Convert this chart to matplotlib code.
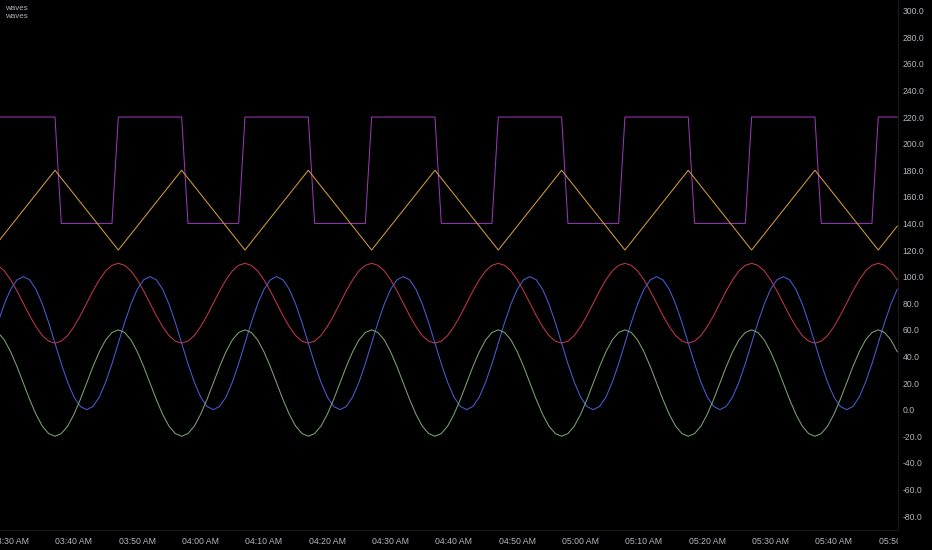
import matplotlib
matplotlib.use('Agg')
import matplotlib.pyplot as plt
import matplotlib.dates as mdates
import pandas as pd

# one bar per minute, 03:27 -> 05:50
times = pd.date_range('2024-01-01 03:27', periods=144, freq='min')

square = [
    220, 220, 220, 220, 220, 220, 220, 220, 220, 220, 220, 140, 140, 140, 140, 140, 140, 140, 140, 140,
    220, 220, 220, 220, 220, 220, 220, 220, 220, 220, 220, 140, 140, 140, 140, 140, 140, 140, 140, 140,
    220, 220, 220, 220, 220, 220, 220, 220, 220, 220, 220, 140, 140, 140, 140, 140, 140, 140, 140, 140,
    220, 220, 220, 220, 220, 220, 220, 220, 220, 220, 220, 140, 140, 140, 140, 140, 140, 140, 140, 140,
    220, 220, 220, 220, 220, 220, 220, 220, 220, 220, 220, 140, 140, 140, 140, 140, 140, 140, 140, 140,
    220, 220, 220, 220, 220, 220, 220, 220, 220, 220, 220, 140, 140, 140, 140, 140, 140, 140, 140, 140,
    220, 220, 220, 220, 220, 220, 220, 220, 220, 220, 220, 140, 140, 140, 140, 140, 140, 140, 140, 140,
    220, 220, 220, 220,
]

triangle = [
    120, 126, 132, 138, 144, 150, 156, 162, 168, 174, 180, 174, 168, 162, 156, 150, 144, 138, 132, 126,
    120, 126, 132, 138, 144, 150, 156, 162, 168, 174, 180, 174, 168, 162, 156, 150, 144, 138, 132, 126,
    120, 126, 132, 138, 144, 150, 156, 162, 168, 174, 180, 174, 168, 162, 156, 150, 144, 138, 132, 126,
    120, 126, 132, 138, 144, 150, 156, 162, 168, 174, 180, 174, 168, 162, 156, 150, 144, 138, 132, 126,
    120, 126, 132, 138, 144, 150, 156, 162, 168, 174, 180, 174, 168, 162, 156, 150, 144, 138, 132, 126,
    120, 126, 132, 138, 144, 150, 156, 162, 168, 174, 180, 174, 168, 162, 156, 150, 144, 138, 132, 126,
    120, 126, 132, 138, 144, 150, 156, 162, 168, 174, 180, 174, 168, 162, 156, 150, 144, 138, 132, 126,
    120, 126, 132, 138,
]

red = [
    110, 108.5, 104.3, 97.6, 89.3, 80, 70.7, 62.4, 55.7, 51.5, 50, 51.5, 55.7, 62.4, 70.7, 80, 89.3, 97.6, 104.3, 108.5,
    110, 108.5, 104.3, 97.6, 89.3, 80, 70.7, 62.4, 55.7, 51.5, 50, 51.5, 55.7, 62.4, 70.7, 80, 89.3, 97.6, 104.3, 108.5,
    110, 108.5, 104.3, 97.6, 89.3, 80, 70.7, 62.4, 55.7, 51.5, 50, 51.5, 55.7, 62.4, 70.7, 80, 89.3, 97.6, 104.3, 108.5,
    110, 108.5, 104.3, 97.6, 89.3, 80, 70.7, 62.4, 55.7, 51.5, 50, 51.5, 55.7, 62.4, 70.7, 80, 89.3, 97.6, 104.3, 108.5,
    110, 108.5, 104.3, 97.6, 89.3, 80, 70.7, 62.4, 55.7, 51.5, 50, 51.5, 55.7, 62.4, 70.7, 80, 89.3, 97.6, 104.3, 108.5,
    110, 108.5, 104.3, 97.6, 89.3, 80, 70.7, 62.4, 55.7, 51.5, 50, 51.5, 55.7, 62.4, 70.7, 80, 89.3, 97.6, 104.3, 108.5,
    110, 108.5, 104.3, 97.6, 89.3, 80, 70.7, 62.4, 55.7, 51.5, 50, 51.5, 55.7, 62.4, 70.7, 80, 89.3, 97.6, 104.3, 108.5,
    110, 108.5, 104.3, 97.6,
]

blue = [
    50, 65.5, 79.4, 90.5, 97.6, 100, 97.6, 90.5, 79.4, 65.5, 50, 34.5, 20.6, 9.5, 2.4, 0, 2.4, 9.5, 20.6, 34.5,
    50, 65.5, 79.4, 90.5, 97.6, 100, 97.6, 90.5, 79.4, 65.5, 50, 34.5, 20.6, 9.5, 2.4, 0, 2.4, 9.5, 20.6, 34.5,
    50, 65.5, 79.4, 90.5, 97.6, 100, 97.6, 90.5, 79.4, 65.5, 50, 34.5, 20.6, 9.5, 2.4, 0, 2.4, 9.5, 20.6, 34.5,
    50, 65.5, 79.4, 90.5, 97.6, 100, 97.6, 90.5, 79.4, 65.5, 50, 34.5, 20.6, 9.5, 2.4, 0, 2.4, 9.5, 20.6, 34.5,
    50, 65.5, 79.4, 90.5, 97.6, 100, 97.6, 90.5, 79.4, 65.5, 50, 34.5, 20.6, 9.5, 2.4, 0, 2.4, 9.5, 20.6, 34.5,
    50, 65.5, 79.4, 90.5, 97.6, 100, 97.6, 90.5, 79.4, 65.5, 50, 34.5, 20.6, 9.5, 2.4, 0, 2.4, 9.5, 20.6, 34.5,
    50, 65.5, 79.4, 90.5, 97.6, 100, 97.6, 90.5, 79.4, 65.5, 50, 34.5, 20.6, 9.5, 2.4, 0, 2.4, 9.5, 20.6, 34.5,
    50, 65.5, 79.4, 90.5,
]

green = [
    60, 58, 52.4, 43.5, 32.4, 20, 7.6, -3.5, -12.4, -18, -20, -18, -12.4, -3.5, 7.6, 20, 32.4, 43.5, 52.4, 58,
    60, 58, 52.4, 43.5, 32.4, 20, 7.6, -3.5, -12.4, -18, -20, -18, -12.4, -3.5, 7.6, 20, 32.4, 43.5, 52.4, 58,
    60, 58, 52.4, 43.5, 32.4, 20, 7.6, -3.5, -12.4, -18, -20, -18, -12.4, -3.5, 7.6, 20, 32.4, 43.5, 52.4, 58,
    60, 58, 52.4, 43.5, 32.4, 20, 7.6, -3.5, -12.4, -18, -20, -18, -12.4, -3.5, 7.6, 20, 32.4, 43.5, 52.4, 58,
    60, 58, 52.4, 43.5, 32.4, 20, 7.6, -3.5, -12.4, -18, -20, -18, -12.4, -3.5, 7.6, 20, 32.4, 43.5, 52.4, 58,
    60, 58, 52.4, 43.5, 32.4, 20, 7.6, -3.5, -12.4, -18, -20, -18, -12.4, -3.5, 7.6, 20, 32.4, 43.5, 52.4, 58,
    60, 58, 52.4, 43.5, 32.4, 20, 7.6, -3.5, -12.4, -18, -20, -18, -12.4, -3.5, 7.6, 20, 32.4, 43.5, 52.4, 58,
    60, 58, 52.4, 43.5,
]

price_ticks = [300, 280, 260, 240, 220, 200, 180, 160, 140, 120, 100, 80, 60, 40, 20, 0, -20, -40, -60, -80]

txt = '#b2b5be'
plt.rcParams['font.family'] = ['Liberation Sans', 'DejaVu Sans']

fig = plt.figure(figsize=(9.32, 5.5), dpi=100, facecolor='#000000')
ax = fig.add_axes([0, 20 / 550, 898 / 932, 530 / 550])
ax.set_facecolor('#000000')

ax.plot(times, square, color='#9637b4', lw=0.75)
ax.plot(times, triangle, color='#d09c3a', lw=0.75)
ax.plot(times, red, color='#c0374c', lw=0.75)
ax.plot(times, blue, color='#4a5cd2', lw=0.75)
ax.plot(times, green, color='#7aa274', lw=0.75)

ax.set_xlim(pd.Timestamp('2024-01-01 03:28:19'), pd.Timestamp('2024-01-01 05:50:07'))
ax.set_ylim(-90.5, 308.0)

ax.xaxis.set_major_locator(mdates.MinuteLocator(byminute=range(0, 60, 10)))
ax.xaxis.set_major_formatter(mdates.DateFormatter('%I:%M %p'))
ax.yaxis.tick_right()
ax.set_yticks(price_ticks)
ax.set_yticklabels([f'{v:.1f}' for v in price_ticks])
ax.tick_params(axis='y', length=0, pad=3.5, labelsize=6.2, labelcolor=txt)
ax.tick_params(axis='x', length=0, pad=5, labelsize=6.3, labelcolor=txt)
for lab in ax.get_xticklabels():
    lab.set_clip_on(False)

for side in ['top', 'left']:
    ax.spines[side].set_visible(False)
ax.spines['right'].set_color('#1a1a1a')
ax.spines['bottom'].set_color('#1a1a1a')
ax.spines['right'].set_linewidth(0.8)
ax.spines['bottom'].set_linewidth(0.8)

# last x label is clipped by the price scale panel
fig.patches.append(plt.Rectangle((898 / 932, 0), 34 / 932, 20 / 550, transform=fig.transFigure,
                                 facecolor='#000000', edgecolor='none', zorder=10))

fig.text(5 / 932, 1 - 9 / 550, 'waves', color=txt, fontsize=5.8, va='center')
fig.text(5 / 932, 1 - 17 / 550, 'waves', color=txt, fontsize=5.8, va='center')

fig.savefig('out.png', dpi=100, facecolor=fig.get_facecolor())
